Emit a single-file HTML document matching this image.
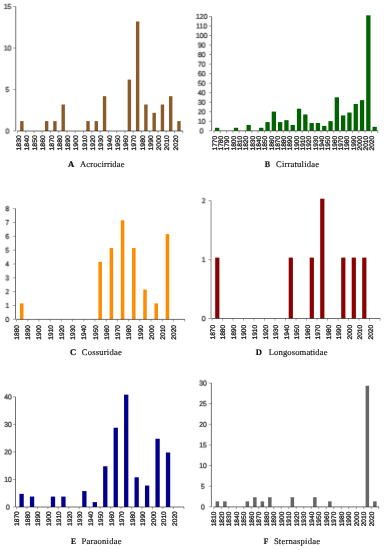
<!DOCTYPE html>
<html lang="en"><head><meta charset="utf-8"><title>Species descriptions per decade</title>
<style>
html,body{margin:0;padding:0;background:#fff;}
body{width:384px;height:550px;overflow:hidden;}
svg{display:block;}
.ax{font-family:"Liberation Sans",sans-serif;font-size:7.4px;fill:#1a1a1a;text-rendering:geometricPrecision;stroke:#1a1a1a;stroke-width:0.2px;filter:blur(0.2px);}
.xl{font-size:6.6px;stroke-width:0.3px;filter:none;}
.cap{font-family:"Liberation Serif",serif;font-size:8.6px;fill:#111;stroke:#111;stroke-width:0.15px;text-rendering:geometricPrecision;filter:blur(0.2px);}
.capb{font-family:"Liberation Serif",serif;font-size:8.6px;font-weight:bold;fill:#111;stroke:#111;stroke-width:0.2px;text-rendering:geometricPrecision;filter:blur(0.2px);}
</style></head><body>
<svg width="384" height="550" viewBox="0 0 384 550">
<rect x="0" y="0" width="384" height="550" fill="#ffffff"/>
<g id="chartA">
<rect x="20.15" y="121.10" width="3.40" height="9.90" fill="#8B5A2B"/>
<rect x="44.96" y="121.10" width="3.40" height="9.90" fill="#8B5A2B"/>
<rect x="53.23" y="121.10" width="3.40" height="9.90" fill="#8B5A2B"/>
<rect x="61.50" y="104.50" width="3.40" height="26.50" fill="#8B5A2B"/>
<rect x="86.31" y="121.10" width="3.40" height="9.90" fill="#8B5A2B"/>
<rect x="94.58" y="121.10" width="3.40" height="9.90" fill="#8B5A2B"/>
<rect x="102.85" y="96.20" width="3.40" height="34.80" fill="#8B5A2B"/>
<rect x="127.66" y="79.60" width="3.40" height="51.40" fill="#8B5A2B"/>
<rect x="135.93" y="21.50" width="3.40" height="109.50" fill="#8B5A2B"/>
<rect x="144.20" y="104.50" width="3.40" height="26.50" fill="#8B5A2B"/>
<rect x="152.47" y="112.80" width="3.40" height="18.20" fill="#8B5A2B"/>
<rect x="160.74" y="104.50" width="3.40" height="26.50" fill="#8B5A2B"/>
<rect x="169.01" y="96.20" width="3.40" height="34.80" fill="#8B5A2B"/>
<rect x="177.28" y="121.10" width="3.40" height="9.90" fill="#8B5A2B"/>
<path d="M15.75 6.50 V131.00" fill="none" stroke="#1a1a1a" stroke-width="0.62"/>
<path d="M17.15 131.00 H183.05" fill="none" stroke="#1a1a1a" stroke-width="0.62"/>
<path d="M15.75 131.00 h-2.6M15.75 89.50 h-2.6M15.75 48.00 h-2.6M15.75 6.50 h-2.6M17.40 131.00 v2.2M25.67 131.00 v2.2M33.94 131.00 v2.2M42.21 131.00 v2.2M50.48 131.00 v2.2M58.75 131.00 v2.2M67.02 131.00 v2.2M75.29 131.00 v2.2M83.56 131.00 v2.2M91.83 131.00 v2.2M100.10 131.00 v2.2M108.37 131.00 v2.2M116.64 131.00 v2.2M124.91 131.00 v2.2M133.18 131.00 v2.2M141.45 131.00 v2.2M149.72 131.00 v2.2M157.99 131.00 v2.2M166.26 131.00 v2.2M174.53 131.00 v2.2M182.80 131.00 v2.2" fill="none" stroke="#333333" stroke-width="0.42"/>
<text class="ax" transform="translate(7.50 133.60) rotate(-0.05) scale(0.93 1)" text-anchor="middle">0</text>
<text class="ax" transform="translate(7.50 92.10) rotate(-0.05) scale(0.93 1)" text-anchor="middle">5</text>
<text class="ax" transform="translate(7.50 50.60) rotate(-0.05) scale(0.93 1)" text-anchor="middle">10</text>
<text class="ax" transform="translate(7.50 9.10) rotate(-0.05) scale(0.93 1)" text-anchor="middle">15</text>
<text class="ax xl" transform="translate(20.50 135.20) rotate(-90) scale(1.04 1)" text-anchor="end">1830</text>
<text class="ax xl" transform="translate(28.77 135.20) rotate(-90) scale(1.04 1)" text-anchor="end">1840</text>
<text class="ax xl" transform="translate(37.05 135.20) rotate(-90) scale(1.04 1)" text-anchor="end">1850</text>
<text class="ax xl" transform="translate(45.32 135.20) rotate(-90) scale(1.04 1)" text-anchor="end">1860</text>
<text class="ax xl" transform="translate(53.59 135.20) rotate(-90) scale(1.04 1)" text-anchor="end">1870</text>
<text class="ax xl" transform="translate(61.86 135.20) rotate(-90) scale(1.04 1)" text-anchor="end">1880</text>
<text class="ax xl" transform="translate(70.14 135.20) rotate(-90) scale(1.04 1)" text-anchor="end">1890</text>
<text class="ax xl" transform="translate(78.41 135.20) rotate(-90) scale(1.04 1)" text-anchor="end">1900</text>
<text class="ax xl" transform="translate(86.68 135.20) rotate(-90) scale(1.04 1)" text-anchor="end">1910</text>
<text class="ax xl" transform="translate(94.95 135.20) rotate(-90) scale(1.04 1)" text-anchor="end">1920</text>
<text class="ax xl" transform="translate(103.23 135.20) rotate(-90) scale(1.04 1)" text-anchor="end">1930</text>
<text class="ax xl" transform="translate(111.50 135.20) rotate(-90) scale(1.04 1)" text-anchor="end">1940</text>
<text class="ax xl" transform="translate(119.77 135.20) rotate(-90) scale(1.04 1)" text-anchor="end">1950</text>
<text class="ax xl" transform="translate(128.04 135.20) rotate(-90) scale(1.04 1)" text-anchor="end">1960</text>
<text class="ax xl" transform="translate(136.32 135.20) rotate(-90) scale(1.04 1)" text-anchor="end">1970</text>
<text class="ax xl" transform="translate(144.59 135.20) rotate(-90) scale(1.04 1)" text-anchor="end">1980</text>
<text class="ax xl" transform="translate(152.86 135.20) rotate(-90) scale(1.04 1)" text-anchor="end">1990</text>
<text class="ax xl" transform="translate(161.13 135.20) rotate(-90) scale(1.04 1)" text-anchor="end">2000</text>
<text class="ax xl" transform="translate(169.41 135.20) rotate(-90) scale(1.04 1)" text-anchor="end">2010</text>
<text class="ax xl" transform="translate(177.68 135.20) rotate(-90) scale(1.04 1)" text-anchor="end">2020</text>
</g>
<g id="chartB">
<rect x="215.00" y="127.79" width="4.30" height="3.01" fill="#006400"/>
<rect x="233.90" y="127.79" width="4.30" height="3.01" fill="#006400"/>
<rect x="246.50" y="124.93" width="4.30" height="5.87" fill="#006400"/>
<rect x="259.10" y="127.79" width="4.30" height="3.01" fill="#006400"/>
<rect x="265.40" y="122.07" width="4.30" height="8.73" fill="#006400"/>
<rect x="271.70" y="111.59" width="4.30" height="19.21" fill="#006400"/>
<rect x="278.00" y="122.07" width="4.30" height="8.73" fill="#006400"/>
<rect x="284.30" y="120.17" width="4.30" height="10.63" fill="#006400"/>
<rect x="290.60" y="124.93" width="4.30" height="5.87" fill="#006400"/>
<rect x="296.90" y="108.73" width="4.30" height="22.07" fill="#006400"/>
<rect x="303.20" y="114.45" width="4.30" height="16.35" fill="#006400"/>
<rect x="309.50" y="123.03" width="4.30" height="7.77" fill="#006400"/>
<rect x="315.80" y="123.03" width="4.30" height="7.77" fill="#006400"/>
<rect x="322.10" y="125.89" width="4.30" height="4.92" fill="#006400"/>
<rect x="328.40" y="121.12" width="4.30" height="9.68" fill="#006400"/>
<rect x="334.70" y="97.30" width="4.30" height="33.50" fill="#006400"/>
<rect x="341.00" y="115.40" width="4.30" height="15.40" fill="#006400"/>
<rect x="347.30" y="112.54" width="4.30" height="18.26" fill="#006400"/>
<rect x="353.60" y="103.97" width="4.30" height="26.83" fill="#006400"/>
<rect x="359.90" y="100.15" width="4.30" height="30.65" fill="#006400"/>
<rect x="366.20" y="15.34" width="4.30" height="115.46" fill="#006400"/>
<rect x="372.50" y="126.84" width="4.30" height="3.96" fill="#006400"/>
<path d="M211.60 16.44 V130.80" fill="none" stroke="#1a1a1a" stroke-width="0.62"/>
<path d="M213.75 130.80 H378.05" fill="none" stroke="#1a1a1a" stroke-width="0.62"/>
<path d="M211.60 130.80 h-2.6M211.60 121.27 h-2.6M211.60 111.74 h-2.6M211.60 102.21 h-2.6M211.60 92.68 h-2.6M211.60 83.15 h-2.6M211.60 73.62 h-2.6M211.60 64.09 h-2.6M211.60 54.56 h-2.6M211.60 45.03 h-2.6M211.60 35.50 h-2.6M211.60 25.97 h-2.6M211.60 16.44 h-2.6M214.00 130.80 v2.2M220.30 130.80 v2.2M226.60 130.80 v2.2M232.90 130.80 v2.2M239.20 130.80 v2.2M245.50 130.80 v2.2M251.80 130.80 v2.2M258.10 130.80 v2.2M264.40 130.80 v2.2M270.70 130.80 v2.2M277.00 130.80 v2.2M283.30 130.80 v2.2M289.60 130.80 v2.2M295.90 130.80 v2.2M302.20 130.80 v2.2M308.50 130.80 v2.2M314.80 130.80 v2.2M321.10 130.80 v2.2M327.40 130.80 v2.2M333.70 130.80 v2.2M340.00 130.80 v2.2M346.30 130.80 v2.2M352.60 130.80 v2.2M358.90 130.80 v2.2M365.20 130.80 v2.2M371.50 130.80 v2.2M377.80 130.80 v2.2" fill="none" stroke="#333333" stroke-width="0.42"/>
<text class="ax" transform="translate(201.60 133.40) rotate(-0.05) scale(0.93 1)" text-anchor="middle">0</text>
<text class="ax" transform="translate(201.60 123.87) rotate(-0.05) scale(0.93 1)" text-anchor="middle">10</text>
<text class="ax" transform="translate(201.60 114.34) rotate(-0.05) scale(0.93 1)" text-anchor="middle">20</text>
<text class="ax" transform="translate(201.60 104.81) rotate(-0.05) scale(0.93 1)" text-anchor="middle">30</text>
<text class="ax" transform="translate(201.60 95.28) rotate(-0.05) scale(0.93 1)" text-anchor="middle">40</text>
<text class="ax" transform="translate(201.60 85.75) rotate(-0.05) scale(0.93 1)" text-anchor="middle">50</text>
<text class="ax" transform="translate(201.60 76.22) rotate(-0.05) scale(0.93 1)" text-anchor="middle">60</text>
<text class="ax" transform="translate(201.60 66.69) rotate(-0.05) scale(0.93 1)" text-anchor="middle">70</text>
<text class="ax" transform="translate(201.60 57.16) rotate(-0.05) scale(0.93 1)" text-anchor="middle">80</text>
<text class="ax" transform="translate(201.60 47.63) rotate(-0.05) scale(0.93 1)" text-anchor="middle">90</text>
<text class="ax" transform="translate(201.60 38.10) rotate(-0.05) scale(0.93 1)" text-anchor="middle">100</text>
<text class="ax" transform="translate(201.60 28.57) rotate(-0.05) scale(0.93 1)" text-anchor="middle">110</text>
<text class="ax" transform="translate(201.60 19.04) rotate(-0.05) scale(0.93 1)" text-anchor="middle">120</text>
<text class="ax xl" transform="translate(216.77 135.85) rotate(-90) scale(1.0 1)" text-anchor="end">1770</text>
<text class="ax xl" transform="translate(223.08 135.85) rotate(-90) scale(1.0 1)" text-anchor="end">1780</text>
<text class="ax xl" transform="translate(229.39 135.85) rotate(-90) scale(1.0 1)" text-anchor="end">1790</text>
<text class="ax xl" transform="translate(235.69 135.85) rotate(-90) scale(1.0 1)" text-anchor="end">1800</text>
<text class="ax xl" transform="translate(242.00 135.85) rotate(-90) scale(1.0 1)" text-anchor="end">1810</text>
<text class="ax xl" transform="translate(248.31 135.85) rotate(-90) scale(1.0 1)" text-anchor="end">1820</text>
<text class="ax xl" transform="translate(254.62 135.85) rotate(-90) scale(1.0 1)" text-anchor="end">1830</text>
<text class="ax xl" transform="translate(260.93 135.85) rotate(-90) scale(1.0 1)" text-anchor="end">1840</text>
<text class="ax xl" transform="translate(267.23 135.85) rotate(-90) scale(1.0 1)" text-anchor="end">1850</text>
<text class="ax xl" transform="translate(273.54 135.85) rotate(-90) scale(1.0 1)" text-anchor="end">1860</text>
<text class="ax xl" transform="translate(279.85 135.85) rotate(-90) scale(1.0 1)" text-anchor="end">1870</text>
<text class="ax xl" transform="translate(286.16 135.85) rotate(-90) scale(1.0 1)" text-anchor="end">1880</text>
<text class="ax xl" transform="translate(292.47 135.85) rotate(-90) scale(1.0 1)" text-anchor="end">1890</text>
<text class="ax xl" transform="translate(298.77 135.85) rotate(-90) scale(1.0 1)" text-anchor="end">1900</text>
<text class="ax xl" transform="translate(305.08 135.85) rotate(-90) scale(1.0 1)" text-anchor="end">1910</text>
<text class="ax xl" transform="translate(311.39 135.85) rotate(-90) scale(1.0 1)" text-anchor="end">1920</text>
<text class="ax xl" transform="translate(317.70 135.85) rotate(-90) scale(1.0 1)" text-anchor="end">1930</text>
<text class="ax xl" transform="translate(324.01 135.85) rotate(-90) scale(1.0 1)" text-anchor="end">1940</text>
<text class="ax xl" transform="translate(330.31 135.85) rotate(-90) scale(1.0 1)" text-anchor="end">1950</text>
<text class="ax xl" transform="translate(336.62 135.85) rotate(-90) scale(1.0 1)" text-anchor="end">1960</text>
<text class="ax xl" transform="translate(342.93 135.85) rotate(-90) scale(1.0 1)" text-anchor="end">1970</text>
<text class="ax xl" transform="translate(349.24 135.85) rotate(-90) scale(1.0 1)" text-anchor="end">1980</text>
<text class="ax xl" transform="translate(355.55 135.85) rotate(-90) scale(1.0 1)" text-anchor="end">1990</text>
<text class="ax xl" transform="translate(361.85 135.85) rotate(-90) scale(1.0 1)" text-anchor="end">2000</text>
<text class="ax xl" transform="translate(368.16 135.85) rotate(-90) scale(1.0 1)" text-anchor="end">2010</text>
<text class="ax xl" transform="translate(374.47 135.85) rotate(-90) scale(1.0 1)" text-anchor="end">2020</text>
</g>
<g id="chartC">
<rect x="19.95" y="303.35" width="3.50" height="16.05" fill="#FF8C00"/>
<rect x="98.42" y="261.80" width="3.50" height="57.60" fill="#FF8C00"/>
<rect x="109.63" y="247.95" width="3.50" height="71.45" fill="#FF8C00"/>
<rect x="120.84" y="220.25" width="3.50" height="99.15" fill="#FF8C00"/>
<rect x="132.05" y="247.95" width="3.50" height="71.45" fill="#FF8C00"/>
<rect x="143.26" y="289.50" width="3.50" height="29.90" fill="#FF8C00"/>
<rect x="154.47" y="303.35" width="3.50" height="16.05" fill="#FF8C00"/>
<rect x="165.68" y="234.10" width="3.50" height="85.30" fill="#FF8C00"/>
<path d="M15.50 208.60 V319.40" fill="none" stroke="#1a1a1a" stroke-width="0.62"/>
<path d="M16.25 319.40 H184.90" fill="none" stroke="#1a1a1a" stroke-width="0.62"/>
<path d="M15.50 319.40 h-2.6M15.50 305.55 h-2.6M15.50 291.70 h-2.6M15.50 277.85 h-2.6M15.50 264.00 h-2.6M15.50 250.15 h-2.6M15.50 236.30 h-2.6M15.50 222.45 h-2.6M15.50 208.60 h-2.6M16.50 319.40 v2.2M27.71 319.40 v2.2M38.92 319.40 v2.2M50.13 319.40 v2.2M61.34 319.40 v2.2M72.55 319.40 v2.2M83.76 319.40 v2.2M94.97 319.40 v2.2M106.18 319.40 v2.2M117.39 319.40 v2.2M128.60 319.40 v2.2M139.81 319.40 v2.2M151.02 319.40 v2.2M162.23 319.40 v2.2M173.44 319.40 v2.2M184.65 319.40 v2.2" fill="none" stroke="#333333" stroke-width="0.42"/>
<text class="ax" transform="translate(7.40 322.00) rotate(-0.05) scale(0.93 1)" text-anchor="middle">0</text>
<text class="ax" transform="translate(7.40 308.15) rotate(-0.05) scale(0.93 1)" text-anchor="middle">1</text>
<text class="ax" transform="translate(7.40 294.30) rotate(-0.05) scale(0.93 1)" text-anchor="middle">2</text>
<text class="ax" transform="translate(7.40 280.45) rotate(-0.05) scale(0.93 1)" text-anchor="middle">3</text>
<text class="ax" transform="translate(7.40 266.60) rotate(-0.05) scale(0.93 1)" text-anchor="middle">4</text>
<text class="ax" transform="translate(7.40 252.75) rotate(-0.05) scale(0.93 1)" text-anchor="middle">5</text>
<text class="ax" transform="translate(7.40 238.90) rotate(-0.05) scale(0.93 1)" text-anchor="middle">6</text>
<text class="ax" transform="translate(7.40 225.05) rotate(-0.05) scale(0.93 1)" text-anchor="middle">7</text>
<text class="ax" transform="translate(7.40 211.20) rotate(-0.05) scale(0.93 1)" text-anchor="middle">8</text>
<text class="ax xl" transform="translate(18.90 325.00) rotate(-90) scale(1.0 1)" text-anchor="end">1880</text>
<text class="ax xl" transform="translate(30.16 325.00) rotate(-90) scale(1.0 1)" text-anchor="end">1890</text>
<text class="ax xl" transform="translate(41.41 325.00) rotate(-90) scale(1.0 1)" text-anchor="end">1900</text>
<text class="ax xl" transform="translate(52.67 325.00) rotate(-90) scale(1.0 1)" text-anchor="end">1910</text>
<text class="ax xl" transform="translate(63.93 325.00) rotate(-90) scale(1.0 1)" text-anchor="end">1920</text>
<text class="ax xl" transform="translate(75.18 325.00) rotate(-90) scale(1.0 1)" text-anchor="end">1930</text>
<text class="ax xl" transform="translate(86.44 325.00) rotate(-90) scale(1.0 1)" text-anchor="end">1940</text>
<text class="ax xl" transform="translate(97.69 325.00) rotate(-90) scale(1.0 1)" text-anchor="end">1950</text>
<text class="ax xl" transform="translate(108.95 325.00) rotate(-90) scale(1.0 1)" text-anchor="end">1960</text>
<text class="ax xl" transform="translate(120.21 325.00) rotate(-90) scale(1.0 1)" text-anchor="end">1970</text>
<text class="ax xl" transform="translate(131.46 325.00) rotate(-90) scale(1.0 1)" text-anchor="end">1980</text>
<text class="ax xl" transform="translate(142.72 325.00) rotate(-90) scale(1.0 1)" text-anchor="end">1990</text>
<text class="ax xl" transform="translate(153.98 325.00) rotate(-90) scale(1.0 1)" text-anchor="end">2000</text>
<text class="ax xl" transform="translate(165.23 325.00) rotate(-90) scale(1.0 1)" text-anchor="end">2010</text>
<text class="ax xl" transform="translate(176.49 325.00) rotate(-90) scale(1.0 1)" text-anchor="end">2020</text>
</g>
<g id="chartD">
<rect x="215.20" y="257.60" width="4.20" height="60.90" fill="#8B0000"/>
<rect x="288.70" y="257.60" width="4.20" height="60.90" fill="#8B0000"/>
<rect x="309.70" y="257.60" width="4.20" height="60.90" fill="#8B0000"/>
<rect x="320.20" y="198.70" width="4.20" height="119.80" fill="#8B0000"/>
<rect x="341.20" y="257.60" width="4.20" height="60.90" fill="#8B0000"/>
<rect x="351.70" y="257.60" width="4.20" height="60.90" fill="#8B0000"/>
<rect x="362.20" y="257.60" width="4.20" height="60.90" fill="#8B0000"/>
<path d="M211.05 200.70 V318.50" fill="none" stroke="#4a4a4a" stroke-width="0.62"/>
<path d="M211.75 318.50 H380.25" fill="none" stroke="#1a1a1a" stroke-width="0.62"/>
<path d="M211.05 318.50 h-2.6M211.05 259.60 h-2.6M211.05 200.70 h-2.6M212.00 318.50 v2.2M222.50 318.50 v2.2M233.00 318.50 v2.2M243.50 318.50 v2.2M254.00 318.50 v2.2M264.50 318.50 v2.2M275.00 318.50 v2.2M285.50 318.50 v2.2M296.00 318.50 v2.2M306.50 318.50 v2.2M317.00 318.50 v2.2M327.50 318.50 v2.2M338.00 318.50 v2.2M348.50 318.50 v2.2M359.00 318.50 v2.2M369.50 318.50 v2.2M380.00 318.50 v2.2" fill="none" stroke="#333333" stroke-width="0.42"/>
<text class="ax" transform="translate(203.70 321.10) rotate(-0.05) scale(0.93 1)" text-anchor="middle">0</text>
<text class="ax" transform="translate(203.70 262.20) rotate(-0.05) scale(0.93 1)" text-anchor="middle">1</text>
<text class="ax" transform="translate(203.70 203.30) rotate(-0.05) scale(0.93 1)" text-anchor="middle">2</text>
<text class="ax xl" transform="translate(214.87 324.80) rotate(-90) scale(1.0 1)" text-anchor="end">1870</text>
<text class="ax xl" transform="translate(225.40 324.80) rotate(-90) scale(1.0 1)" text-anchor="end">1880</text>
<text class="ax xl" transform="translate(235.93 324.80) rotate(-90) scale(1.0 1)" text-anchor="end">1890</text>
<text class="ax xl" transform="translate(246.47 324.80) rotate(-90) scale(1.0 1)" text-anchor="end">1900</text>
<text class="ax xl" transform="translate(257.00 324.80) rotate(-90) scale(1.0 1)" text-anchor="end">1910</text>
<text class="ax xl" transform="translate(267.53 324.80) rotate(-90) scale(1.0 1)" text-anchor="end">1920</text>
<text class="ax xl" transform="translate(278.06 324.80) rotate(-90) scale(1.0 1)" text-anchor="end">1930</text>
<text class="ax xl" transform="translate(288.59 324.80) rotate(-90) scale(1.0 1)" text-anchor="end">1940</text>
<text class="ax xl" transform="translate(299.13 324.80) rotate(-90) scale(1.0 1)" text-anchor="end">1950</text>
<text class="ax xl" transform="translate(309.66 324.80) rotate(-90) scale(1.0 1)" text-anchor="end">1960</text>
<text class="ax xl" transform="translate(320.19 324.80) rotate(-90) scale(1.0 1)" text-anchor="end">1970</text>
<text class="ax xl" transform="translate(330.72 324.80) rotate(-90) scale(1.0 1)" text-anchor="end">1980</text>
<text class="ax xl" transform="translate(341.25 324.80) rotate(-90) scale(1.0 1)" text-anchor="end">1990</text>
<text class="ax xl" transform="translate(351.79 324.80) rotate(-90) scale(1.0 1)" text-anchor="end">2000</text>
<text class="ax xl" transform="translate(362.32 324.80) rotate(-90) scale(1.0 1)" text-anchor="end">2010</text>
<text class="ax xl" transform="translate(372.85 324.80) rotate(-90) scale(1.0 1)" text-anchor="end">2020</text>
</g>
<g id="chartE">
<rect x="19.45" y="493.83" width="4.30" height="13.17" fill="#00008B"/>
<rect x="29.91" y="496.58" width="4.30" height="10.42" fill="#00008B"/>
<rect x="50.83" y="496.58" width="4.30" height="10.42" fill="#00008B"/>
<rect x="61.29" y="496.58" width="4.30" height="10.42" fill="#00008B"/>
<rect x="82.21" y="491.07" width="4.30" height="15.92" fill="#00008B"/>
<rect x="92.67" y="502.10" width="4.30" height="4.90" fill="#00008B"/>
<rect x="103.13" y="466.28" width="4.30" height="40.72" fill="#00008B"/>
<rect x="113.59" y="427.71" width="4.30" height="79.29" fill="#00008B"/>
<rect x="124.05" y="394.65" width="4.30" height="112.35" fill="#00008B"/>
<rect x="134.51" y="477.30" width="4.30" height="29.70" fill="#00008B"/>
<rect x="144.97" y="485.56" width="4.30" height="21.43" fill="#00008B"/>
<rect x="155.43" y="438.73" width="4.30" height="68.27" fill="#00008B"/>
<rect x="165.89" y="452.50" width="4.30" height="54.49" fill="#00008B"/>
<path d="M15.50 396.80 V507.00" fill="none" stroke="#1a1a1a" stroke-width="0.62"/>
<path d="M16.25 507.00 H184.11" fill="none" stroke="#1a1a1a" stroke-width="0.62"/>
<path d="M15.50 507.00 h-2.6M15.50 479.45 h-2.6M15.50 451.90 h-2.6M15.50 424.35 h-2.6M15.50 396.80 h-2.6M16.50 507.00 v2.2M26.96 507.00 v2.2M37.42 507.00 v2.2M47.88 507.00 v2.2M58.34 507.00 v2.2M68.80 507.00 v2.2M79.26 507.00 v2.2M89.72 507.00 v2.2M100.18 507.00 v2.2M110.64 507.00 v2.2M121.10 507.00 v2.2M131.56 507.00 v2.2M142.02 507.00 v2.2M152.48 507.00 v2.2M162.94 507.00 v2.2M173.40 507.00 v2.2M183.86 507.00 v2.2" fill="none" stroke="#333333" stroke-width="0.42"/>
<text class="ax" transform="translate(7.90 509.60) rotate(-0.05) scale(0.93 1)" text-anchor="middle">0</text>
<text class="ax" transform="translate(7.90 482.05) rotate(-0.05) scale(0.93 1)" text-anchor="middle">10</text>
<text class="ax" transform="translate(7.90 454.50) rotate(-0.05) scale(0.93 1)" text-anchor="middle">20</text>
<text class="ax" transform="translate(7.90 426.95) rotate(-0.05) scale(0.93 1)" text-anchor="middle">30</text>
<text class="ax" transform="translate(7.90 399.40) rotate(-0.05) scale(0.93 1)" text-anchor="middle">40</text>
<text class="ax xl" transform="translate(19.12 511.25) rotate(-90) scale(1.0 1)" text-anchor="end">1870</text>
<text class="ax xl" transform="translate(29.62 511.25) rotate(-90) scale(1.0 1)" text-anchor="end">1880</text>
<text class="ax xl" transform="translate(40.12 511.25) rotate(-90) scale(1.0 1)" text-anchor="end">1890</text>
<text class="ax xl" transform="translate(50.63 511.25) rotate(-90) scale(1.0 1)" text-anchor="end">1900</text>
<text class="ax xl" transform="translate(61.13 511.25) rotate(-90) scale(1.0 1)" text-anchor="end">1910</text>
<text class="ax xl" transform="translate(71.63 511.25) rotate(-90) scale(1.0 1)" text-anchor="end">1920</text>
<text class="ax xl" transform="translate(82.13 511.25) rotate(-90) scale(1.0 1)" text-anchor="end">1930</text>
<text class="ax xl" transform="translate(92.63 511.25) rotate(-90) scale(1.0 1)" text-anchor="end">1940</text>
<text class="ax xl" transform="translate(103.14 511.25) rotate(-90) scale(1.0 1)" text-anchor="end">1950</text>
<text class="ax xl" transform="translate(113.64 511.25) rotate(-90) scale(1.0 1)" text-anchor="end">1960</text>
<text class="ax xl" transform="translate(124.14 511.25) rotate(-90) scale(1.0 1)" text-anchor="end">1970</text>
<text class="ax xl" transform="translate(134.64 511.25) rotate(-90) scale(1.0 1)" text-anchor="end">1980</text>
<text class="ax xl" transform="translate(145.14 511.25) rotate(-90) scale(1.0 1)" text-anchor="end">1990</text>
<text class="ax xl" transform="translate(155.65 511.25) rotate(-90) scale(1.0 1)" text-anchor="end">2000</text>
<text class="ax xl" transform="translate(166.15 511.25) rotate(-90) scale(1.0 1)" text-anchor="end">2010</text>
<text class="ax xl" transform="translate(176.65 511.25) rotate(-90) scale(1.0 1)" text-anchor="end">2020</text>
</g>
<g id="chartF">
<rect x="215.60" y="501.37" width="3.50" height="5.53" fill="#666666"/>
<rect x="223.10" y="501.37" width="3.50" height="5.53" fill="#666666"/>
<rect x="245.60" y="501.37" width="3.50" height="5.53" fill="#666666"/>
<rect x="253.10" y="497.24" width="3.50" height="9.66" fill="#666666"/>
<rect x="260.60" y="501.37" width="3.50" height="5.53" fill="#666666"/>
<rect x="268.10" y="497.24" width="3.50" height="9.66" fill="#666666"/>
<rect x="290.60" y="497.24" width="3.50" height="9.66" fill="#666666"/>
<rect x="313.10" y="497.24" width="3.50" height="9.66" fill="#666666"/>
<rect x="328.10" y="501.37" width="3.50" height="5.53" fill="#666666"/>
<rect x="365.60" y="385.73" width="3.50" height="121.17" fill="#666666"/>
<rect x="373.10" y="501.37" width="3.50" height="5.53" fill="#666666"/>
<path d="M211.40 383.00 V506.90" fill="none" stroke="#1a1a1a" stroke-width="0.62"/>
<path d="M213.50 506.90 H379.00" fill="none" stroke="#1a1a1a" stroke-width="0.62"/>
<path d="M211.40 506.90 h-2.6M211.40 486.25 h-2.6M211.40 465.60 h-2.6M211.40 444.95 h-2.6M211.40 424.30 h-2.6M211.40 403.65 h-2.6M211.40 383.00 h-2.6M213.75 506.90 v2.2M221.25 506.90 v2.2M228.75 506.90 v2.2M236.25 506.90 v2.2M243.75 506.90 v2.2M251.25 506.90 v2.2M258.75 506.90 v2.2M266.25 506.90 v2.2M273.75 506.90 v2.2M281.25 506.90 v2.2M288.75 506.90 v2.2M296.25 506.90 v2.2M303.75 506.90 v2.2M311.25 506.90 v2.2M318.75 506.90 v2.2M326.25 506.90 v2.2M333.75 506.90 v2.2M341.25 506.90 v2.2M348.75 506.90 v2.2M356.25 506.90 v2.2M363.75 506.90 v2.2M371.25 506.90 v2.2M378.75 506.90 v2.2" fill="none" stroke="#333333" stroke-width="0.42"/>
<text class="ax" transform="translate(202.90 509.50) rotate(-0.05) scale(0.93 1)" text-anchor="middle">0</text>
<text class="ax" transform="translate(202.90 488.85) rotate(-0.05) scale(0.93 1)" text-anchor="middle">5</text>
<text class="ax" transform="translate(202.90 468.20) rotate(-0.05) scale(0.93 1)" text-anchor="middle">10</text>
<text class="ax" transform="translate(202.90 447.55) rotate(-0.05) scale(0.93 1)" text-anchor="middle">15</text>
<text class="ax" transform="translate(202.90 426.90) rotate(-0.05) scale(0.93 1)" text-anchor="middle">20</text>
<text class="ax" transform="translate(202.90 406.25) rotate(-0.05) scale(0.93 1)" text-anchor="middle">25</text>
<text class="ax" transform="translate(202.90 385.60) rotate(-0.05) scale(0.93 1)" text-anchor="middle">30</text>
<text class="ax xl" transform="translate(216.30 511.65) rotate(-90) scale(1.0 1)" text-anchor="end">1810</text>
<text class="ax xl" transform="translate(223.80 511.65) rotate(-90) scale(1.0 1)" text-anchor="end">1820</text>
<text class="ax xl" transform="translate(231.30 511.65) rotate(-90) scale(1.0 1)" text-anchor="end">1830</text>
<text class="ax xl" transform="translate(238.80 511.65) rotate(-90) scale(1.0 1)" text-anchor="end">1840</text>
<text class="ax xl" transform="translate(246.30 511.65) rotate(-90) scale(1.0 1)" text-anchor="end">1850</text>
<text class="ax xl" transform="translate(253.80 511.65) rotate(-90) scale(1.0 1)" text-anchor="end">1860</text>
<text class="ax xl" transform="translate(261.30 511.65) rotate(-90) scale(1.0 1)" text-anchor="end">1870</text>
<text class="ax xl" transform="translate(268.80 511.65) rotate(-90) scale(1.0 1)" text-anchor="end">1880</text>
<text class="ax xl" transform="translate(276.30 511.65) rotate(-90) scale(1.0 1)" text-anchor="end">1890</text>
<text class="ax xl" transform="translate(283.80 511.65) rotate(-90) scale(1.0 1)" text-anchor="end">1900</text>
<text class="ax xl" transform="translate(291.30 511.65) rotate(-90) scale(1.0 1)" text-anchor="end">1910</text>
<text class="ax xl" transform="translate(298.80 511.65) rotate(-90) scale(1.0 1)" text-anchor="end">1920</text>
<text class="ax xl" transform="translate(306.30 511.65) rotate(-90) scale(1.0 1)" text-anchor="end">1930</text>
<text class="ax xl" transform="translate(313.80 511.65) rotate(-90) scale(1.0 1)" text-anchor="end">1940</text>
<text class="ax xl" transform="translate(321.30 511.65) rotate(-90) scale(1.0 1)" text-anchor="end">1950</text>
<text class="ax xl" transform="translate(328.80 511.65) rotate(-90) scale(1.0 1)" text-anchor="end">1960</text>
<text class="ax xl" transform="translate(336.30 511.65) rotate(-90) scale(1.0 1)" text-anchor="end">1970</text>
<text class="ax xl" transform="translate(343.80 511.65) rotate(-90) scale(1.0 1)" text-anchor="end">1980</text>
<text class="ax xl" transform="translate(351.30 511.65) rotate(-90) scale(1.0 1)" text-anchor="end">1990</text>
<text class="ax xl" transform="translate(358.80 511.65) rotate(-90) scale(1.0 1)" text-anchor="end">2000</text>
<text class="ax xl" transform="translate(366.30 511.65) rotate(-90) scale(1.0 1)" text-anchor="end">2010</text>
<text class="ax xl" transform="translate(373.80 511.65) rotate(-90) scale(1.0 1)" text-anchor="end">2020</text>
</g>
<text class="capb" x="68.00" y="167.20">A</text>
<text class="cap" x="80.00" y="167.20" textLength="44.5" lengthAdjust="spacing">Acrocirridae</text>
<text class="capb" x="264.80" y="167.20" textLength="5.4" lengthAdjust="spacingAndGlyphs">B</text>
<text class="cap" x="276.00" y="167.20" textLength="43.0" lengthAdjust="spacing">Cirratulidae</text>
<text class="capb" x="70.00" y="355.20">C</text>
<text class="cap" x="81.75" y="355.20" textLength="40.0" lengthAdjust="spacing">Cossuridae</text>
<text class="capb" x="255.80" y="355.30">D</text>
<text class="cap" x="268.70" y="355.30" textLength="58.8" lengthAdjust="spacing">Longosomatidae</text>
<text class="capb" x="71.00" y="544.00" textLength="5.0" lengthAdjust="spacingAndGlyphs">E</text>
<text class="cap" x="81.50" y="544.00" textLength="40.0" lengthAdjust="spacing">Paraonidae</text>
<text class="capb" x="263.80" y="544.00" textLength="4.6" lengthAdjust="spacingAndGlyphs">F</text>
<text class="cap" x="273.90" y="544.00" textLength="46.1" lengthAdjust="spacing">Sternaspidae</text>
</svg></body></html>
